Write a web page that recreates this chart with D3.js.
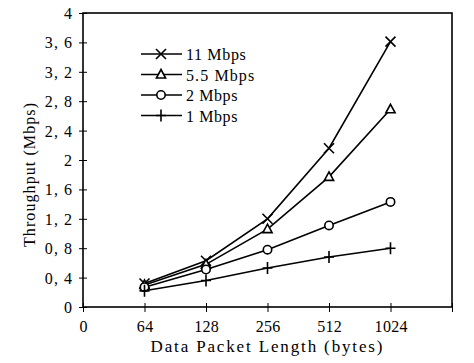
<!DOCTYPE html>
<html>
<head>
<meta charset="utf-8">
<script src="https://cdn.jsdelivr.net/npm/d3@7"></script>
<style>
  html, body { margin: 0; padding: 0; background: #fff; }
  svg { display: block; }
  text { font-family: "Liberation Serif", "DejaVu Serif", serif; fill: #000; }
</style>
</head>
<body>
<svg id="chart" width="474" height="363"></svg>
<script>
// data
const packetLengths = ["64", "128", "256", "512", "1024"];
const seriesNames   = ["11 Mbps", "5.5 Mbps", "2 Mbps", "1 Mbps"];
const markerTypes   = ["cross", "triangle", "circle", "plus"];
const rate11  = [0.32, 0.63, 1.20, 2.16, 3.61];
const rate55  = [0.30, 0.58, 1.06, 1.77, 2.69];
const rate2   = [0.27, 0.51, 0.78, 1.11, 1.43];
const rate1   = [0.22, 0.36, 0.53, 0.68, 0.80];
const yTicks  = [0, 0.4, 0.8, 1.2, 1.6, 2, 2.4, 2.8, 3.2, 3.6, 4];

const series = [rate11, rate55, rate2, rate1].map((vals, i) => ({
  name: seriesNames[i],
  marker: markerTypes[i],
  values: vals.map((v, j) => ({ i: j + 1, v }))
}));

const svg = d3.select("#chart");
const LEFT = 83, RIGHT = 452, TOP = 13, BOTTOM = 307;
const CHAR_W = 8.4; // the source font has fixed-width latin glyphs

const x = d3.scaleLinear().domain([0, packetLengths.length + 1]).range([LEFT, RIGHT]);
const y = d3.scaleLinear().domain([0, 4]).range([BOTTOM, TOP]);

// marker shapes, centred on 0,0
function markerPath(type) {
  if (type === "cross")    return "M-5,-5L5,5M-5,5L5,-5";
  if (type === "triangle") return "M0,-5L4.6,3.5L-4.6,3.5Z";
  if (type === "plus")     return "M-5,0L5,0M0,-6L0,6";
  return null;
}
function drawMarker(g, type) {
  if (type === "circle") {
    g.append("circle").attr("r", 4.2)
      .attr("fill", "#fff").attr("stroke", "#000").attr("stroke-width", 1.6);
  } else {
    g.append("path").attr("d", markerPath(type))
      .attr("fill", type === "triangle" ? "#fff" : "none")
      .attr("stroke", "#000").attr("stroke-width", 1.6);
  }
}

// frame
svg.append("rect")
  .attr("x", LEFT).attr("y", TOP)
  .attr("width", RIGHT - LEFT).attr("height", BOTTOM - TOP)
  .attr("fill", "none").attr("stroke", "#000").attr("stroke-width", 1.6);

// y axis
const fmtY = d => {
  const r = Math.round(d * 10) / 10;
  return Number.isInteger(r) ? String(r) : r.toFixed(1).replace(".", ", ");
};
const yAxis = svg.append("g")
  .attr("transform", `translate(${LEFT},0)`)
  .call(d3.axisLeft(y).tickValues(yTicks).tickFormat(fmtY).tickSize(4).tickPadding(7));
yAxis.select(".domain").remove();
yAxis.selectAll(".tick line").attr("x2", 4).attr("x1", -4).attr("stroke", "#000");
yAxis.selectAll(".tick text")
  .attr("font-size", 16).attr("font-family", "Liberation Serif").attr("fill", "#000")
  .attr("dy", "0.34em")
  .each(function (d) {
    const s = fmtY(d);
    if (s.length > 1) d3.select(this).attr("textLength", s.length * 6.8).attr("lengthAdjust", "spacing");
  });

// x axis
const xTickVals = d3.range(0, packetLengths.length + 2);
const fmtX = d => d === 0 ? "0" : (packetLengths[d - 1] || "");
const xAxis = svg.append("g")
  .attr("transform", `translate(0,${BOTTOM})`)
  .call(d3.axisBottom(x).tickValues(xTickVals).tickFormat(fmtX).tickSize(4).tickPadding(10));
xAxis.select(".domain").remove();
xAxis.selectAll(".tick line").attr("y1", -4).attr("y2", 5).attr("stroke", "#000");
xAxis.selectAll(".tick text")
  .attr("font-size", 16).attr("font-family", "Liberation Serif").attr("fill", "#000")
  .each(function (d) {
    const s = fmtX(d);
    if (s.length > 1) d3.select(this).attr("textLength", s.length * 8.2).attr("lengthAdjust", "spacing");
  });

// axis titles
svg.append("text")
  .attr("x", (LEFT + RIGHT) / 2 - 1).attr("y", 352)
  .attr("text-anchor", "middle").attr("font-size", 17)
  .attr("textLength", 232).attr("lengthAdjust", "spacing")
  .text("Data Packet Length (bytes)");

svg.append("text")
  .attr("transform", "translate(35,175) rotate(-90)")
  .attr("text-anchor", "middle").attr("font-size", 16)
  .attr("textLength", 144).attr("lengthAdjust", "spacing")
  .text("Throughput (Mbps)");

// lines and markers
const line = d3.line().x(d => x(d.i)).y(d => y(d.v));
const sg = svg.selectAll("g.series").data(series).enter().append("g").attr("class", "series");
sg.append("path")
  .attr("d", d => line(d.values))
  .attr("fill", "none").attr("stroke", "#000").attr("stroke-width", 1.6);
sg.each(function (s) {
  d3.select(this).selectAll("g.pt").data(s.values).enter().append("g")
    .attr("class", "pt")
    .attr("transform", d => `translate(${x(d.i)},${y(d.v)})`)
    .each(function () { drawMarker(d3.select(this), s.marker); });
});

// legend
const legend = svg.append("g").attr("transform", "translate(141,54)");
const rows = legend.selectAll("g").data(series).enter().append("g")
  .attr("transform", (d, i) => `translate(0,${i * 20.5})`);
rows.append("line")
  .attr("x1", 0).attr("x2", 41).attr("y1", 0).attr("y2", 0)
  .attr("stroke", "#000").attr("stroke-width", 1.6);
rows.append("g").attr("transform", "translate(20,0)")
  .each(function (d) { drawMarker(d3.select(this), d.marker); });
rows.append("text")
  .attr("x", 45).attr("y", 6)
  .attr("font-size", 16)
  .attr("textLength", d => d.name.length * CHAR_W + 1)
  .attr("lengthAdjust", "spacing")
  .text(d => d.name);
</script>
</body>
</html>
